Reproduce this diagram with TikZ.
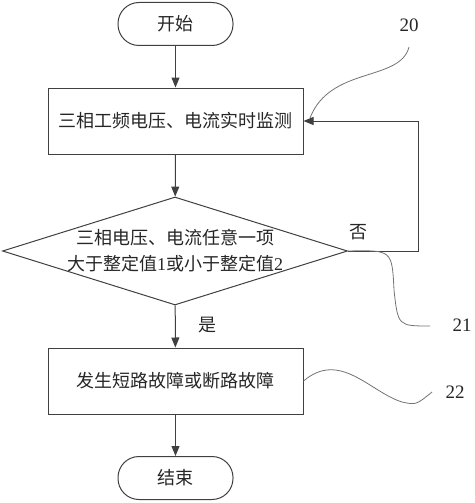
\documentclass[tikz,border=0pt]{standalone}
\usepackage{fontspec}
\setmainfont{Liberation Serif}
\newfontfamily\cjk{Noto Sans CJK SC}
\usepackage{tikz}
\usetikzlibrary{shapes.geometric}
\usetikzlibrary{arrows.meta}

\tikzset{
  flowline/.style={draw=black!75,line width=1pt},
  arr/.style={flowline,-{Triangle[length=10pt,width=8pt]}},
  term/.style={flowline,rounded corners=21pt,minimum width=115pt,minimum height=43pt,
    font=\cjk\fontsize{18}{26}\selectfont,text=black!85},
  stepbox/.style={flowline,minimum width=255pt,minimum height=66pt,
    font=\cjk\fontsize{18}{26}\selectfont,text=black!85},
  decide/.style={flowline,diamond,aspect=3.2,inner sep=-4pt,minimum width=345pt,
    minimum height=108pt,align=center,font=\cjk\fontsize{18}{26}\selectfont,text=black!85},
  leader/.style={draw=black!55,line width=0.8pt},
  refnum/.style={font=\fontsize{19}{22}\selectfont,text=black!85},
  side/.style={font=\cjk\fontsize{18}{22}\selectfont,text=black!85}
}

\begin{document}
\begin{tikzpicture}[x=1pt,y=-1pt]
  \useasboundingbox (0,0) rectangle (474,503);

  % Flow nodes
  \node[term] (start) at (175.5,24) {开始};
  \node[stepbox] (mon) at (175.5,121) {三相工频电压、电流实时监测};
  \node[decide] (dec) at (175,251) {三相电压、电流任意一项\\大于整定值{\rmfamily 1}或小于整定值{\rmfamily 2}};
  \node[stepbox] (fault) at (175.5,381) {发生短路故障或断路故障};
  \node[term] (stop) at (175.5,478) {结束};

  % Arrows
  \draw[arr] (start) -- (mon);
  \draw[arr] (mon) -- (dec);
  \draw[arr] (dec) -- (fault);
  \draw[arr] (fault) -- (stop);

  % Loop back
  \coordinate (loop) at (418,251);
  \draw[arr] (dec.east) -- (loop) |- (mon.east);
  \node[side] (no) at (358,232) {否};
  \node[side] (yes) at (207,325) {是};

  % Reference numbers
  \node[refnum] (n20) at (409,25) {20};
  \node[refnum] (n21) at (462,325) {21};
  \node[refnum] (n22) at (455,392) {22};

  \coordinate (e20) at (310,118);
  \coordinate (e21) at (430,326);
  \coordinate (e22) at (432,392);
  \draw[leader] (409,47) .. controls (400,82) and (330,66) .. (e20);
  \draw[leader] (dec.east) .. controls (392,250) .. (394,290) .. controls (398,326) .. (e21);
  \draw[leader] (fault.east) .. controls (340,350) and (370,392) .. (402,402) .. controls (416,405) .. (e22);
\end{tikzpicture}
\end{document}
